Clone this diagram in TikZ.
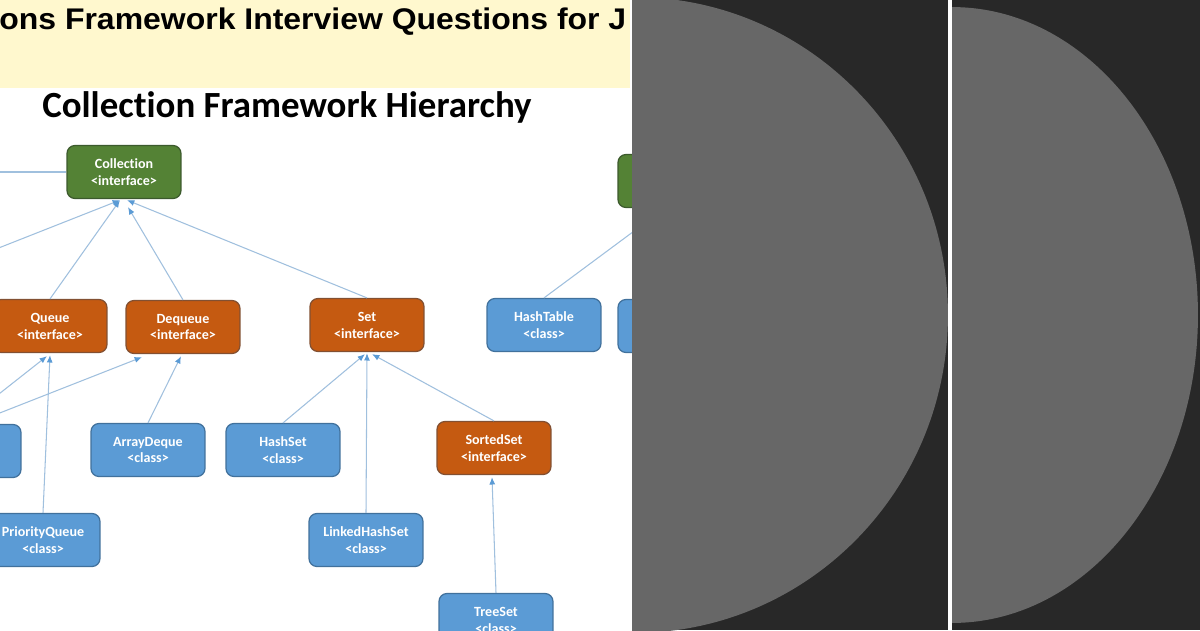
\documentclass[tikz,border=0pt]{standalone}
\usepackage{fontspec}
\setmainfont{Carlito}[Ligatures=NoCommon]
\newfontfamily\bannerfont{Liberation Sans}
\definecolor{ifgreen}{RGB}{84,130,53}
\definecolor{ifgreenline}{RGB}{60,90,45}
\definecolor{iforange}{RGB}{197,90,17}
\definecolor{iforangeline}{RGB}{130,80,50}
\definecolor{clblue}{RGB}{91,155,213}
\definecolor{clblueline}{RGB}{65,113,156}
\definecolor{linkblue}{RGB}{160,192,222}
\definecolor{bandyellow}{RGB}{255,248,206}
\definecolor{darkpanel}{RGB}{40,40,40}
\definecolor{discgray}{RGB}{103,103,103}
\usetikzlibrary{arrows.meta,positioning}

\begin{document}
\begin{tikzpicture}[x=0.02cm,y=-0.02cm,
  box/.style={rounded corners=4.5pt,minimum width=2.28cm,minimum height=1.06cm,
    line width=0.7pt,inner sep=1pt,text=white,align=center,
    font=\fontsize{8}{9.6}\selectfont\bfseries},
  rootbox/.style={box,draw=ifgreenline,fill=ifgreen},
  ifbox/.style={box,draw=iforangeline,fill=iforange},
  clbox/.style={box,draw=clblueline,fill=clblue},
  link/.style={draw=linkblue,line width=0.6pt,
    -{Latex[length=4.2pt,width=3.4pt,color=clblue]}}
]
  \useasboundingbox (0,0) rectangle (1200,630);
  \clip (0,0) rectangle (1200,630);
  \fill[white] (0,0) rectangle (1200,630);
  % banner
  \fill[bandyellow] (0,0) rectangle (630,88);
  \node[anchor=base west,inner sep=0pt,font=\bannerfont\fontsize{17}{20}\selectfont\bfseries]
    (banner) at (-1,29.5) {\scalebox{1.07}[1]{ons Framework Interview Questions for J}};
  \node[anchor=base,inner sep=0pt,font=\fontsize{21}{24}\selectfont\bfseries]
    (heading) at (287,117) {Collection Framework Hierarchy};

  % interfaces
  \node[rootbox] (coll) at (124,172) {Collection\\<interface>};
  \node[rootbox] (map) at (675,181) {};
  \node[ifbox] (queue) at (50,326) {Queue\\<interface>};
  \node[ifbox] (deq) at (183,327) {Dequeue\\<interface>};
  \node[ifbox] (set) at (367,325) {Set\\<interface>};
  \node[ifbox] (sset) at (494,448) {SortedSet\\<interface>};

  % classes
  \node[clbox] (htab) at (544,325) {HashTable\\<class>};
  \node[clbox] (hmap) at (675,326) {};
  \node[clbox] (llist) at (-36,451) {};
  \node[clbox] (adeq) at (148,450) {ArrayDeque\\<class>};
  \node[clbox] (hset) at (283,450) {HashSet\\<class>};
  \node[clbox] (pque) at (43,540) {PriorityQueue\\<class>};
  \node[clbox] (lhset) at (366,540) {LinkedHashSet\\<class>};
  \node[clbox] (tset) at (496,620) {TreeSet\\<class>};

  % off-page ends
  \coordinate (itr) at (-40,172);
  \coordinate (lst) at (-80,279);

  % connectors
  \draw[draw=linkblue,line width=0.6pt] (coll.west) -- (itr);
  \draw[link] (lst) -- ([xshift=-0.08cm,yshift=-0.02cm]coll.south);
  \draw[link] (queue.north) -- ([xshift=-0.08cm,yshift=-0.02cm]coll.south);
  \draw[link] (deq.north) -- ([xshift=0.08cm,yshift=-0.16cm]coll.south);
  \draw[link] (set.north) -- ([xshift=0.06cm,yshift=-0.02cm]coll.south);
  \draw[link] (htab.north) -- ([xshift=-0.2cm]map.south);
  \draw[link] ([xshift=-0.06cm]llist.north) -- ([xshift=-0.06cm,yshift=-0.06cm]queue.south);
  \draw[link] (pque.north) -- ([yshift=-0.04cm]queue.south);
  \draw[link] ([xshift=0.16cm]llist.north) -- ([xshift=-0.82cm,yshift=-0.06cm]deq.south);
  \draw[link] (adeq.north) -- ([xshift=-0.04cm,yshift=-0.04cm]deq.south);
  \draw[link] (hset.north) -- ([xshift=-0.04cm,yshift=-0.04cm]set.south);
  \draw[link] (lhset.north) -- ([yshift=-0.02cm]set.south);
  \draw[link] (sset.north) -- ([xshift=0.1cm,yshift=-0.04cm]set.south);
  \draw[link] (tset.north) -- ([xshift=-0.04cm,yshift=-0.04cm]sset.south);

  % dark panels
  \begin{scope}
    \clip (632,0) rectangle (948,630);
    \fill[darkpanel] (632,0) rectangle (948,630);
    \fill[discgray] (634,315) ellipse [x radius=6.28cm,y radius=6.36cm];
  \end{scope}
  \begin{scope}
    \clip (952,0) rectangle (1200,630);
    \fill[darkpanel] (952,0) rectangle (1200,630);
    \fill[discgray] (952,315) ellipse [x radius=4.92cm,y radius=6.16cm];
  \end{scope}
\end{tikzpicture}
\end{document}
